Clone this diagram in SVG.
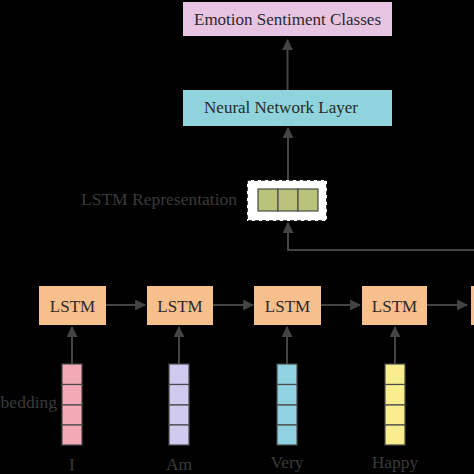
<svg xmlns="http://www.w3.org/2000/svg" width="474" height="474" viewBox="0 0 474 474">
<style>
text{font-family:"Liberation Serif","Times New Roman",serif;}
.lbl{fill:#2a2a2a;font-size:17px;text-anchor:middle;}
.gray{fill:#3a3a3a;font-size:17.5px;}
.word{fill:#3a3a3a;font-size:17.5px;text-anchor:middle;}
.line{stroke:#444;stroke-width:2;fill:none;}
.cell{stroke:#4a4a4a;stroke-width:1.2;}
.lstm{fill:#f7bf8c;}
</style>
<defs>
<marker id="ah" viewBox="0 0 10 10" refX="9" refY="5" markerWidth="5.5" markerHeight="5.5" orient="auto" markerUnits="strokeWidth">
<path d="M0,0 L10,5 L0,10 z" fill="#444"/>
</marker>
</defs>
<rect width="474" height="474" fill="#000"/>
<g id="connectors">
<line class="line" x1="287.5" y1="90" x2="287.5" y2="40" marker-end="url(#ah)"/>
<line class="line" x1="288" y1="180" x2="288" y2="128" marker-end="url(#ah)"/>
<polyline class="line" points="474,250 288,250 288,223" marker-end="url(#ah)"/>
<line class="line" x1="106" y1="305" x2="145" y2="305" marker-end="url(#ah)"/>
<line class="line" x1="213" y1="305" x2="253" y2="305" marker-end="url(#ah)"/>
<line class="line" x1="321" y1="305" x2="360" y2="305" marker-end="url(#ah)"/>
<line class="line" x1="427" y1="305" x2="467" y2="305" marker-end="url(#ah)"/>
<line class="line" x1="72" y1="364" x2="72" y2="327" marker-end="url(#ah)"/>
<line class="line" x1="179" y1="364" x2="179" y2="327" marker-end="url(#ah)"/>
<line class="line" x1="287" y1="364" x2="287" y2="327" marker-end="url(#ah)"/>
<line class="line" x1="395" y1="364" x2="395" y2="327" marker-end="url(#ah)"/>
</g>
<g id="emotion">
<rect x="183" y="2" width="209" height="34" fill="#e7c4e1"/>
<text class="lbl" x="287.5" y="25">Emotion Sentiment Classes</text>
</g>
<g id="nn">
<rect x="183" y="90" width="209" height="36" fill="#8fd3dc"/>
<text class="lbl" x="281" y="113">Neural Network Layer</text>
</g>
<g id="rep">
<text class="gray" x="237" y="205" text-anchor="end">LSTM Representation</text>
<rect x="247" y="180" width="80" height="41" fill="#fff" stroke="#000" stroke-width="1.5" stroke-dasharray="4 3"/>
<rect class="cell" x="258" y="189" width="20" height="22" fill="#b9c47a"/>
<rect class="cell" x="278" y="189" width="20" height="22" fill="#b9c47a"/>
<rect class="cell" x="298" y="189" width="20" height="22" fill="#b9c47a"/>
</g>
<g id="lstm1"><rect class="lstm" x="39" y="286" width="67" height="39"/><text class="lbl" x="72.5" y="312">LSTM</text></g>
<g id="lstm2"><rect class="lstm" x="147" y="286" width="66" height="39"/><text class="lbl" x="180" y="312">LSTM</text></g>
<g id="lstm3"><rect class="lstm" x="254" y="286" width="67" height="39"/><text class="lbl" x="287.5" y="312">LSTM</text></g>
<g id="lstm4"><rect class="lstm" x="362" y="286" width="65" height="39"/><text class="lbl" x="394.5" y="312">LSTM</text></g>
<g id="lstm5"><rect class="lstm" x="471" y="286" width="10" height="39"/></g>
<g id="emb-label"><text class="gray" x="57" y="408" text-anchor="end">bedding</text></g>
<g id="vec1">
<rect class="cell" x="62" y="364" width="20" height="20.5" fill="#f4a9b6"/>
<rect class="cell" x="62" y="384.5" width="20" height="20.5" fill="#f4a9b6"/>
<rect class="cell" x="62" y="405" width="20" height="20" fill="#f4a9b6"/>
<rect class="cell" x="62" y="425" width="20" height="20" fill="#f4a9b6"/>
<text class="word" x="72" y="469.5">I</text>
</g>
<g id="vec2">
<rect class="cell" x="169" y="364" width="20" height="20.5" fill="#cfcaee"/>
<rect class="cell" x="169" y="384.5" width="20" height="20.5" fill="#cfcaee"/>
<rect class="cell" x="169" y="405" width="20" height="20" fill="#cfcaee"/>
<rect class="cell" x="169" y="425" width="20" height="20" fill="#cfcaee"/>
<text class="word" x="179" y="469.5">Am</text>
</g>
<g id="vec3">
<rect class="cell" x="277" y="364" width="20" height="20.5" fill="#8fd3e2"/>
<rect class="cell" x="277" y="384.5" width="20" height="20.5" fill="#8fd3e2"/>
<rect class="cell" x="277" y="405" width="20" height="20" fill="#8fd3e2"/>
<rect class="cell" x="277" y="425" width="20" height="20" fill="#8fd3e2"/>
<text class="word" x="287" y="468">Very</text>
</g>
<g id="vec4">
<rect class="cell" x="385" y="364" width="20" height="20.5" fill="#f8ee8e"/>
<rect class="cell" x="385" y="384.5" width="20" height="20.5" fill="#f8ee8e"/>
<rect class="cell" x="385" y="405" width="20" height="20" fill="#f8ee8e"/>
<rect class="cell" x="385" y="425" width="20" height="20" fill="#f8ee8e"/>
<text class="word" x="395" y="468">Happy</text>
</g>
</svg>
